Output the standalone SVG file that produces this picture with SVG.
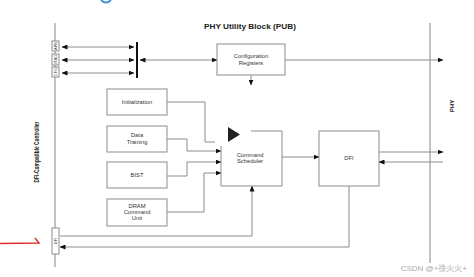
<svg xmlns="http://www.w3.org/2000/svg" width="474" height="277" viewBox="0 0 474 277">
<style>
.box{fill:#fff;stroke:#8c8c8c;stroke-width:1}
.ln{fill:none;stroke:#8c8c8c;stroke-width:1}
.bus{fill:none;stroke:#9a9a9a;stroke-width:1.2}
.t{font-family:"Liberation Sans",Arial,sans-serif;font-size:5.8px;fill:#333;text-anchor:middle}
.b{font-family:"Liberation Sans",Arial,sans-serif;font-weight:bold;fill:#222;text-anchor:middle}
.p{font-family:"Liberation Sans",Arial,sans-serif;font-size:4px;fill:#444;text-anchor:middle}
</style>
<defs>
<marker id="a" markerWidth="6" markerHeight="5" refX="5.5" refY="2.5" orient="auto-start-reverse" markerUnits="userSpaceOnUse"><path d="M0,0 L6,2.5 L0,5z" fill="#111"/></marker>
</defs>
<rect width="474" height="277" fill="#fff"/>
<path d="M101,0 Q106,5 111,0" fill="none" stroke="#3a8fd8" stroke-width="2"/>
<g id="buses">
<path class="bus" d="M55,23 V267"/>
<path class="bus" d="M430,23 V263"/>
</g>
<text class="b" x="250" y="29" font-size="7" textLength="92" lengthAdjust="spacingAndGlyphs">PHY Utility Block (PUB)</text>
<text class="b" font-size="6.5" transform="translate(39,152) rotate(-90)" textLength="61" lengthAdjust="spacingAndGlyphs">DFI-Compatible Controller</text>
<text class="b" font-size="6" transform="translate(454,106) rotate(-90)">PHY</text>
<g id="connectors">
<path class="ln" d="M62,47 H134" marker-start="url(#a)" marker-end="url(#a)"/>
<path class="ln" d="M62,60 H134" marker-start="url(#a)" marker-end="url(#a)"/>
<path class="ln" d="M62,73 H134" marker-start="url(#a)" marker-end="url(#a)"/>
<path class="ln" d="M140,60 H217" marker-start="url(#a)" marker-end="url(#a)"/>
<path class="ln" d="M285,60 H443" marker-end="url(#a)"/>
<path class="ln" d="M251,75 V85" marker-end="url(#a)"/>
<path class="ln" d="M167,102 H205 V142 H215"/>
<path class="ln" d="M167,139 H187 V151 H221" marker-end="url(#a)"/>
<path class="ln" d="M167,176 H187 V162 H221" marker-end="url(#a)"/>
<path class="ln" d="M167,212 H204 V173 H221" marker-end="url(#a)"/>
<path class="ln" d="M282,157 H319" marker-end="url(#a)"/>
<path class="ln" d="M379,152 H443" marker-end="url(#a)"/>
<path class="ln" d="M443,162 H379" marker-end="url(#a)"/>
<path class="ln" d="M60,236 H252 V186" marker-end="url(#a)"/>
<path class="ln" d="M349,186 V247 H60" marker-end="url(#a)"/>
</g>
<g id="bar"><rect x="136" y="42" width="2" height="36" fill="#111"/></g>
<g id="port-apb"><rect class="box" x="52" y="41" width="7" height="10"/><text class="p" transform="translate(57,46) rotate(-90)">APB</text></g>
<g id="port-jtag"><rect class="box" x="52" y="54" width="7" height="11"/><text class="p" transform="translate(57,59.5) rotate(-90)">JTAG</text></g>
<g id="port-cfg"><rect class="box" x="52" y="67" width="7" height="10"/><text class="p" transform="translate(57,72) rotate(-90)">CFG</text></g>
<g id="port-dfi"><rect class="box" x="52" y="228" width="7" height="26"/><text class="p" transform="translate(57,241) rotate(-90)">DFI</text></g>
<g id="config"><rect class="box" x="217" y="44" width="68" height="31"/><text class="t" x="251" y="58">Configuration</text><text class="t" x="251" y="65">Registers</text></g>
<g id="init"><rect class="box" x="107" y="89" width="60" height="26"/><text class="t" x="137" y="104">Initialization</text></g>
<g id="training"><rect class="box" x="107" y="126" width="60" height="26"/><text class="t" x="137" y="137">Data</text><text class="t" x="137" y="143.5">Training</text></g>
<g id="bist"><rect class="box" x="107" y="162" width="60" height="26"/><text class="t" x="137" y="177">BIST</text></g>
<g id="dram"><rect class="box" x="107" y="199" width="60" height="27"/><text class="t" x="137" y="208">DRAM</text><text class="t" x="137" y="214">Command</text><text class="t" x="137" y="220">Unit</text></g>
<g id="scheduler"><path class="ln" d="M251,131 H282 V186 H221 V146"/><polygon points="228,127 240,134.5 228,142" fill="#222"/><text class="t" x="250" y="157">Command</text><text class="t" x="250" y="163">Scheduler</text></g>
<g id="dfi"><rect class="box" x="319" y="131" width="60" height="55"/><text class="t" x="349" y="160">DFI</text></g>
<path d="M0,243.5 L39,243 L35,238" fill="none" stroke="#e0302a" stroke-width="1.5"/>
<text x="467" y="271" font-family="'Liberation Sans','Noto Sans CJK SC',sans-serif" font-size="8" fill="#aaa" text-anchor="end">CSDN @+徐火火+</text>
</svg>
